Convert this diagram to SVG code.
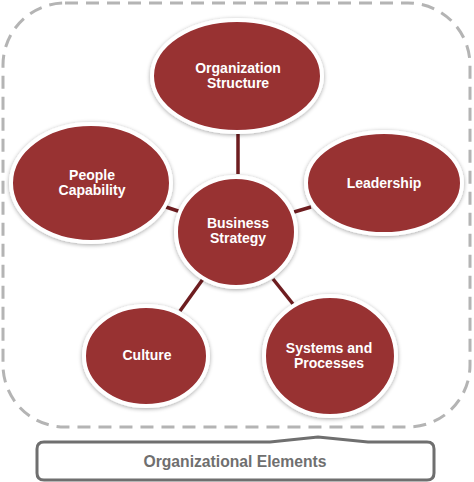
<svg xmlns="http://www.w3.org/2000/svg" width="474" height="482" viewBox="0 0 474 482">
<defs>
<filter id="sh" x="-20%" y="-20%" width="140%" height="140%">
<feGaussianBlur in="SourceAlpha" stdDeviation="2"/>
<feOffset dx="0" dy="1" result="b"/>
<feComponentTransfer><feFuncA type="linear" slope="0.35"/></feComponentTransfer>
<feMerge><feMergeNode/><feMergeNode in="SourceGraphic"/></feMerge>
</filter>
</defs>
<style>
.n{fill:#983033;stroke:#ffffff;stroke-width:4;filter:url(#sh)}
.t{font-family:"Century Gothic","URW Gothic","Liberation Sans",sans-serif;font-weight:bold;font-size:14px;fill:#ffffff;text-anchor:middle}
.c{stroke:#6e1d20;stroke-width:3.5;fill:none}
</style>
<rect x="3" y="3" width="467" height="424" rx="62" ry="62" fill="none" stroke="#b4b4b4" stroke-width="3" stroke-dasharray="13,8"/>
<g id="connectors">
<line class="c" x1="238" y1="134" x2="238" y2="174"/>
<line class="c" x1="166" y1="207" x2="181" y2="212"/>
<line class="c" x1="294" y1="212" x2="311" y2="207"/>
<line class="c" x1="180" y1="311" x2="203" y2="279"/>
<line class="c" x1="273" y1="279" x2="293" y2="304"/>
</g>
<g id="org"><ellipse class="n" cx="237" cy="76" rx="85" ry="56"/><text class="t" x="238" y="73">Organization</text><text class="t" x="238" y="88">Structure</text></g>
<g id="people"><ellipse class="n" cx="91" cy="183" rx="80" ry="59"/><text class="t" x="92" y="180">People</text><text class="t" x="92" y="195">Capability</text></g>
<g id="leadership"><ellipse class="n" cx="384" cy="183" rx="78" ry="51"/><text class="t" x="384" y="188">Leadership</text></g>
<g id="business"><ellipse class="n" cx="236" cy="232" rx="60" ry="55"/><text class="t" x="238" y="228">Business</text><text class="t" x="238" y="243">Strategy</text></g>
<g id="culture"><ellipse class="n" cx="146" cy="356" rx="62" ry="50"/><text class="t" x="147" y="360">Culture</text></g>
<g id="systems"><ellipse class="n" cx="330" cy="356" rx="66" ry="60"/><text class="t" x="329" y="353">Systems and</text><text class="t" x="329" y="368">Processes</text></g>
<g id="label">
<path d="M44,442 L270,442 L318,437 L368,442 L427,442 Q434,442 434,449 L434,473 Q434,480 427,480 L44,480 Q37,480 37,473 L37,449 Q37,442 44,442 Z" fill="#ffffff" stroke="#6f6f6f" stroke-width="3"/>
<text x="235" y="467" font-family="'Century Gothic','URW Gothic','Liberation Sans',sans-serif" font-weight="bold" font-size="15.7" fill="#6f6f6f" text-anchor="middle">Organizational Elements</text>
</g>
</svg>
